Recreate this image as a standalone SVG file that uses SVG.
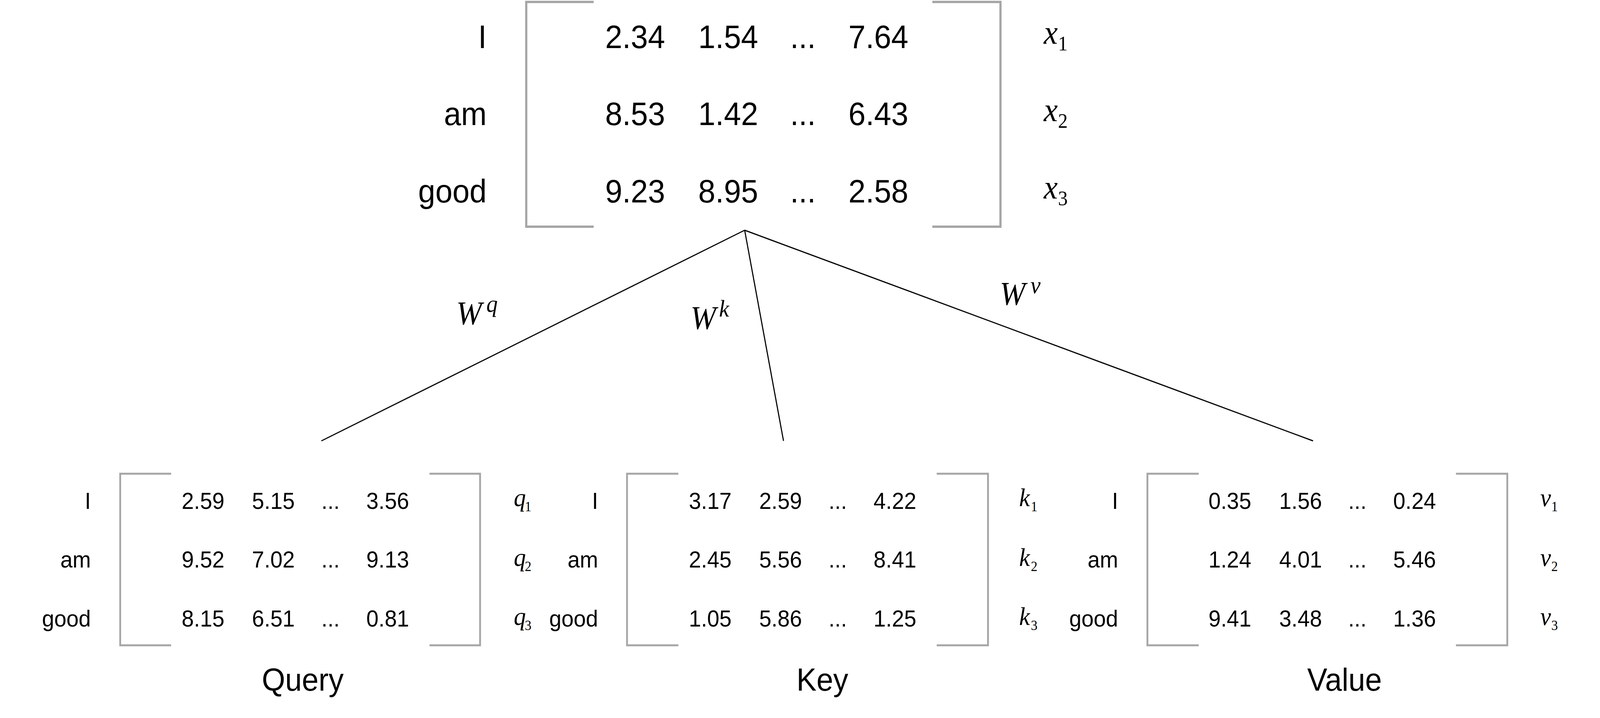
<svg xmlns="http://www.w3.org/2000/svg" width="4366" height="1837" viewBox="0 0 4366 1837">
<style>
.bg{fill:#ffffff}
.br{fill:none;stroke:#a6a6a6;stroke-width:6;stroke-linejoin:miter}
.brs{fill:none;stroke:#a6a6a6;stroke-width:5;stroke-linejoin:miter}
.big{font-family:"Liberation Sans",Arial,sans-serif;font-size:84px;fill:#000}
.sm{font-family:"Liberation Sans",Arial,sans-serif;font-size:60px;fill:#000}
.title{font-family:"Liberation Sans",Arial,sans-serif;font-size:82px;fill:#000;text-anchor:middle}
.mid{text-anchor:middle}
.end{text-anchor:end}
.m{font-family:"Liberation Serif","Times New Roman",serif;font-style:italic;fill:#000}
.sub{font-family:"Liberation Serif","Times New Roman",serif;font-style:normal;fill:#000}
.conn{stroke:#000;stroke-width:3;fill:none;stroke-linecap:butt}
</style>
<rect class="bg" x="0" y="0" width="4366" height="1837"/>
<g id="diagram" transform="scale(0.93816 1)">

<g id="input-matrix">
  <path class="br" d="M1620,5 H1436 V580 H1620"/>
  <path class="br" d="M2544,5 H2730 V580 H2544"/>
  <text class="big end" x="1328" y="123">I</text>
  <text class="big end" x="1328" y="320">am</text>
  <text class="big end" x="1328" y="518">good</text>
  <text class="big mid" x="1733" y="123">2.34</text>
  <text class="big mid" x="1987" y="123">1.54</text>
  <text class="big mid" x="2191" y="123">...</text>
  <text class="big mid" x="2397" y="123">7.64</text>
  <text class="big mid" x="1733" y="320">8.53</text>
  <text class="big mid" x="1987" y="320">1.42</text>
  <text class="big mid" x="2191" y="320">...</text>
  <text class="big mid" x="2397" y="320">6.43</text>
  <text class="big mid" x="1733" y="518">9.23</text>
  <text class="big mid" x="1987" y="518">8.95</text>
  <text class="big mid" x="2191" y="518">...</text>
  <text class="big mid" x="2397" y="518">2.58</text>
  <text class="m" font-size="86" x="2848" y="112">x<tspan class="sub" font-size="53" x="2887" y="129">1</tspan></text>
  <text class="m" font-size="86" x="2848" y="310">x<tspan class="sub" font-size="53" x="2887" y="327">2</tspan></text>
  <text class="m" font-size="86" x="2848" y="508">x<tspan class="sub" font-size="53" x="2887" y="525">3</tspan></text>
</g>

<g id="connectors">
  <line class="conn" x1="2032" y1="589" x2="877" y2="1128"/>
  <line class="conn" x1="2032" y1="589" x2="2138" y2="1128"/>
  <line class="conn" x1="2032" y1="589" x2="3583" y2="1128"/>
  <text class="m" font-size="84" x="1245" y="830">W<tspan font-size="62" x="1327" y="798">q</tspan></text>
  <text class="m" font-size="84" x="1884" y="842">W<tspan font-size="62" x="1962" y="810">k</tspan></text>
  <text class="m" font-size="84" x="2728" y="780">W<tspan font-size="62" x="2812" y="750">v</tspan></text>
</g>

<g id="query-matrix">
  <path class="brs" d="M467,1212 H328 V1651 H467"/>
  <path class="brs" d="M1172,1212 H1310 V1651 H1172"/>
  <text class="sm end" x="248" y="1302">I</text>
  <text class="sm end" x="248" y="1452">am</text>
  <text class="sm end" x="248" y="1603">good</text>
  <text class="sm mid" x="554" y="1302">2.59</text>
  <text class="sm mid" x="746" y="1302">5.15</text>
  <text class="sm mid" x="902" y="1302">...</text>
  <text class="sm mid" x="1058" y="1302">3.56</text>
  <text class="sm mid" x="554" y="1452">9.52</text>
  <text class="sm mid" x="746" y="1452">7.02</text>
  <text class="sm mid" x="902" y="1452">...</text>
  <text class="sm mid" x="1058" y="1452">9.13</text>
  <text class="sm mid" x="554" y="1603">8.15</text>
  <text class="sm mid" x="746" y="1603">6.51</text>
  <text class="sm mid" x="902" y="1603">...</text>
  <text class="sm mid" x="1058" y="1603">0.81</text>
  <text class="m" font-size="66" x="1402" y="1295">q<tspan class="sub" font-size="36" x="1432" y="1308">1</tspan></text>
  <text class="m" font-size="66" x="1402" y="1448">q<tspan class="sub" font-size="36" x="1432" y="1461">2</tspan></text>
  <text class="m" font-size="66" x="1402" y="1599">q<tspan class="sub" font-size="36" x="1432" y="1612">3</tspan></text>
  <text class="title" x="826" y="1767">Query</text>
</g>

<g id="key-matrix">
  <path class="brs" d="M1851,1212 H1711 V1651 H1851"/>
  <path class="brs" d="M2556,1212 H2696 V1651 H2556"/>
  <text class="sm end" x="1632" y="1302">I</text>
  <text class="sm end" x="1632" y="1452">am</text>
  <text class="sm end" x="1632" y="1603">good</text>
  <text class="sm mid" x="1938" y="1302">3.17</text>
  <text class="sm mid" x="2130" y="1302">2.59</text>
  <text class="sm mid" x="2286" y="1302">...</text>
  <text class="sm mid" x="2442" y="1302">4.22</text>
  <text class="sm mid" x="1938" y="1452">2.45</text>
  <text class="sm mid" x="2130" y="1452">5.56</text>
  <text class="sm mid" x="2286" y="1452">...</text>
  <text class="sm mid" x="2442" y="1452">8.41</text>
  <text class="sm mid" x="1938" y="1603">1.05</text>
  <text class="sm mid" x="2130" y="1603">5.86</text>
  <text class="sm mid" x="2286" y="1603">...</text>
  <text class="sm mid" x="2442" y="1603">1.25</text>
  <text class="m" font-size="66" x="2781" y="1295">k<tspan class="sub" font-size="36" x="2813" y="1308">1</tspan></text>
  <text class="m" font-size="66" x="2781" y="1448">k<tspan class="sub" font-size="36" x="2813" y="1461">2</tspan></text>
  <text class="m" font-size="66" x="2781" y="1599">k<tspan class="sub" font-size="36" x="2813" y="1612">3</tspan></text>
  <text class="title" x="2244" y="1767">Key</text>
</g>

<g id="value-matrix">
  <path class="brs" d="M3271,1212 H3131 V1651 H3271"/>
  <path class="brs" d="M3973,1212 H4113 V1651 H3973"/>
  <text class="sm end" x="3051" y="1302">I</text>
  <text class="sm end" x="3051" y="1452">am</text>
  <text class="sm end" x="3051" y="1603">good</text>
  <text class="sm mid" x="3356" y="1302">0.35</text>
  <text class="sm mid" x="3549" y="1302">1.56</text>
  <text class="sm mid" x="3704" y="1302">...</text>
  <text class="sm mid" x="3860" y="1302">0.24</text>
  <text class="sm mid" x="3356" y="1452">1.24</text>
  <text class="sm mid" x="3549" y="1452">4.01</text>
  <text class="sm mid" x="3704" y="1452">...</text>
  <text class="sm mid" x="3860" y="1452">5.46</text>
  <text class="sm mid" x="3356" y="1603">9.41</text>
  <text class="sm mid" x="3549" y="1603">3.48</text>
  <text class="sm mid" x="3704" y="1603">...</text>
  <text class="sm mid" x="3860" y="1603">1.36</text>
  <text class="m" font-size="66" x="4203" y="1295">v<tspan class="sub" font-size="36" x="4233" y="1308">1</tspan></text>
  <text class="m" font-size="66" x="4203" y="1448">v<tspan class="sub" font-size="36" x="4233" y="1461">2</tspan></text>
  <text class="m" font-size="66" x="4203" y="1599">v<tspan class="sub" font-size="36" x="4233" y="1612">3</tspan></text>
  <text class="title" x="3669" y="1767">Value</text>
</g>

</g>
</svg>
